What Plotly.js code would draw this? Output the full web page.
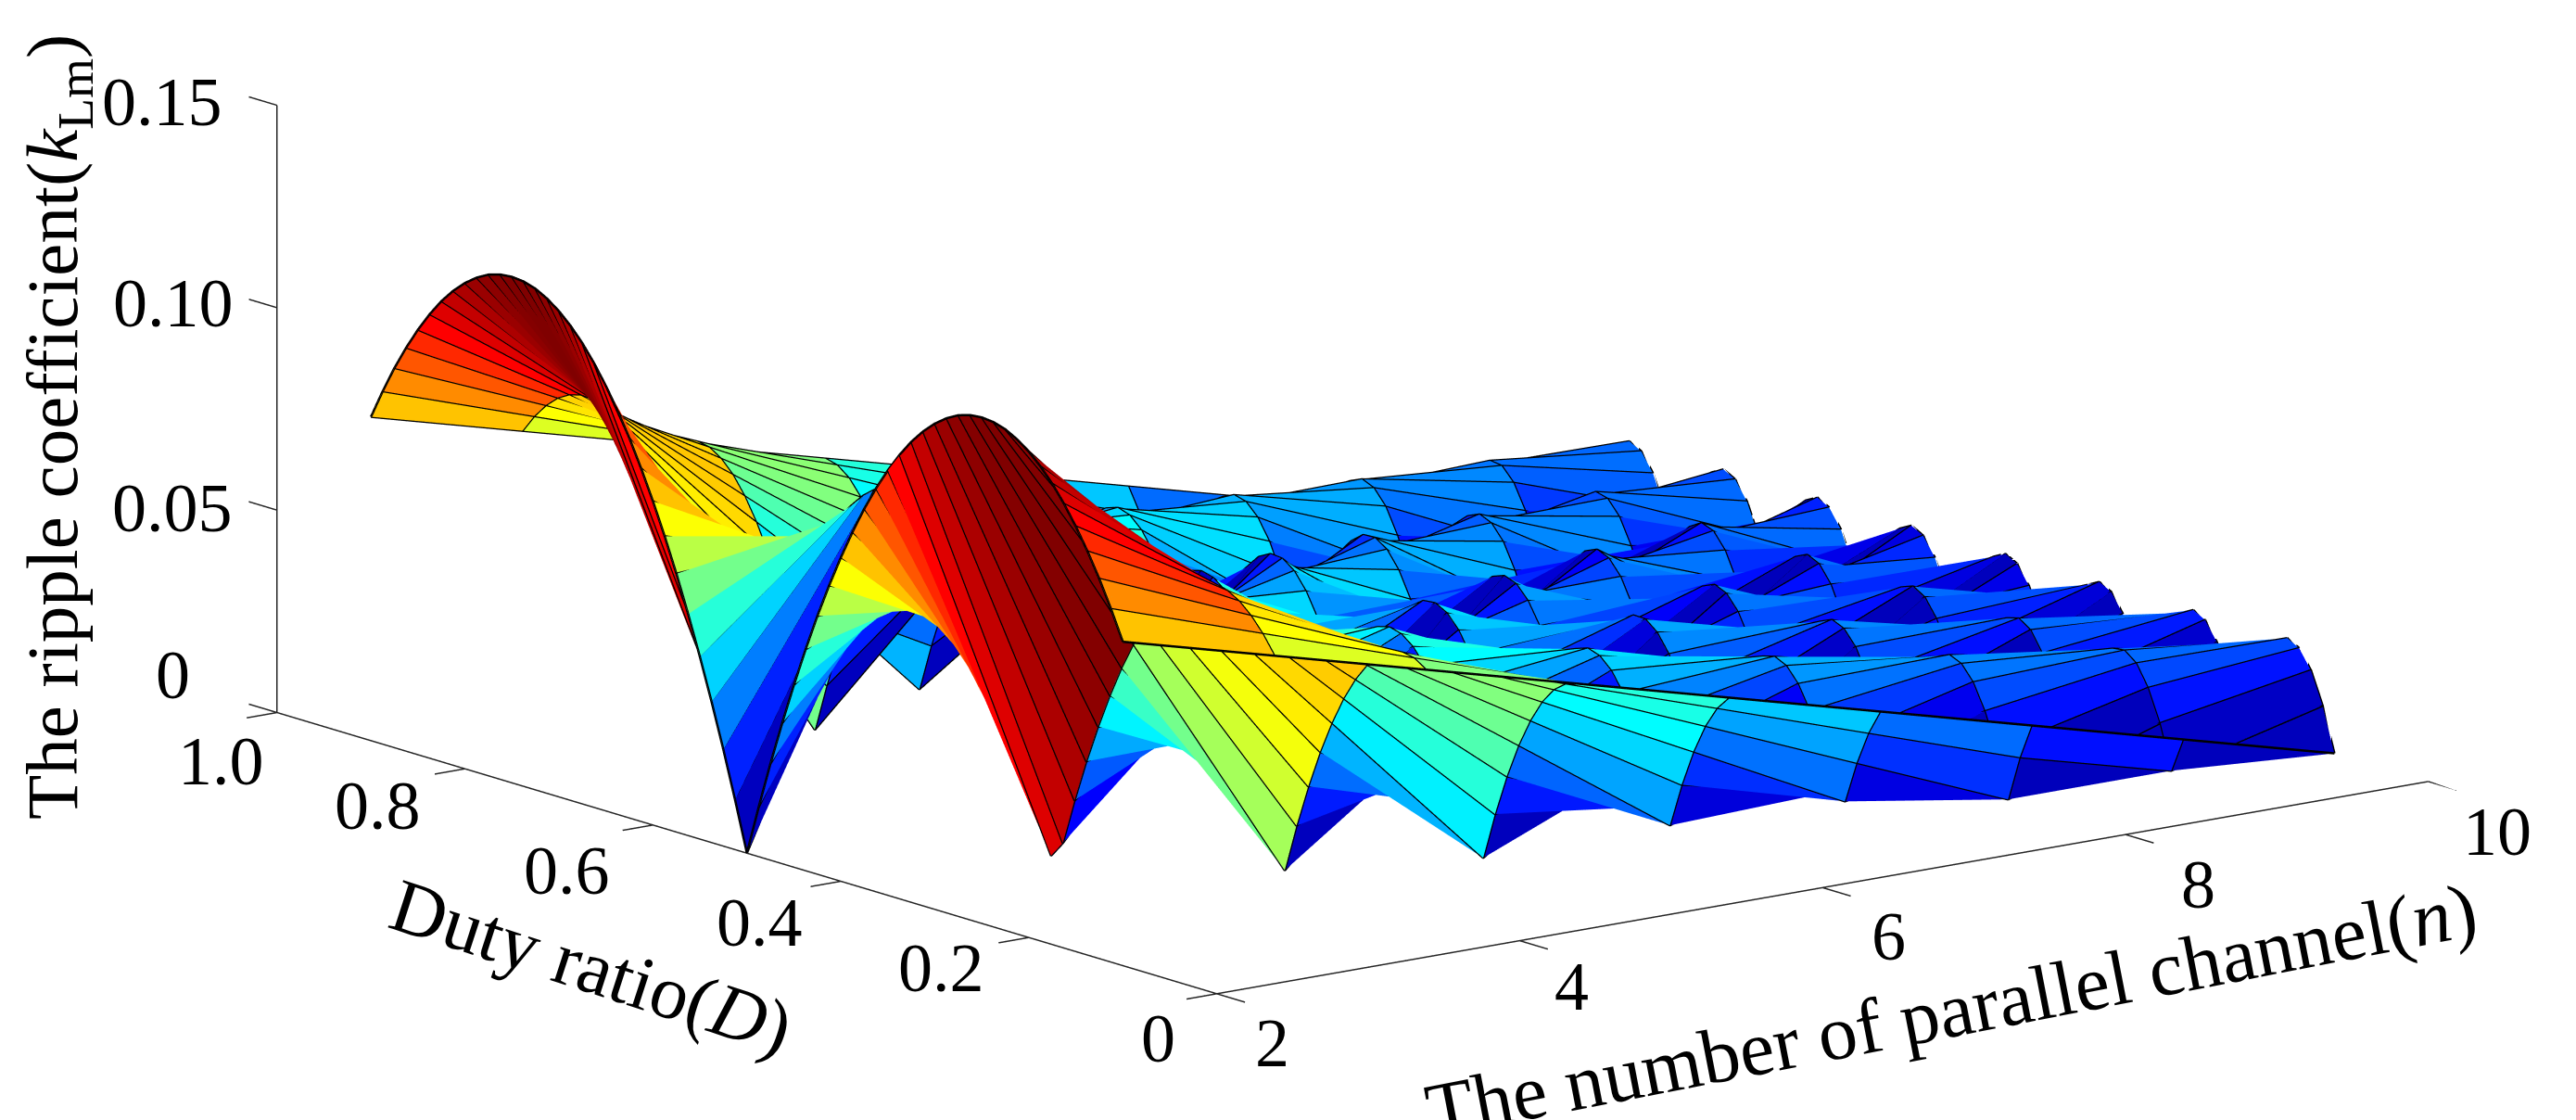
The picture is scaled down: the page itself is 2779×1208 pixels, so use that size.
<!DOCTYPE html>
<html><head><meta charset="utf-8">
<script src="https://cdn.plot.ly/plotly-3.0.1.min.js"></script>
<style>html,body{margin:0;padding:0;background:#fff;overflow:hidden}#c{width:2779px;height:1208px}</style>
</head><body><div id="c"></div>
<script>
const channels = [2,3,4,5,6,7,8,9,10];
const duty = [0.1,0.1125,0.125,0.1375,0.15,0.1625,0.175,0.1875,0.2,0.2125,0.225,0.2375,0.25,0.2625,0.275,0.2875,0.3,0.3125,0.325,0.3375,0.35,0.3625,0.375,0.3875,0.4,0.4125,0.425,0.4375,0.45,0.4625,0.475,0.4875,0.5,0.5125,0.525,0.5375,0.55,0.5625,0.575,0.5875,0.6,0.6125,0.625,0.6375,0.65,0.6625,0.675,0.6875,0.7,0.7125,0.725,0.7375,0.75,0.7625,0.775,0.7875,0.8,0.8125,0.825,0.8375,0.85,0.8625,0.875,0.8875,0.9];
const k2 = [.08,.0872,.0938,.0997,.105,.1097,.1138,.1172,.12,.1222,.1238,.1247,.125,.1247,.1238,.1222,.12,.1172,.1138,.1097,.105,.0997,.0938,.0872,.08,.0722,.0638,.0547,.045,.0347,.0238,.0122,0,.0122,.0238,.0347,.045,.0547,.0638,.0722,.08,.0872,.0938,.0997,.105,.1097,.1138,.1172,.12,.1222,.1238,.1247,.125,.1247,.1238,.1222,.12,.1172,.1138,.1097,.105,.0997,.0938,.0872,.08];
const k3 = [.07,.0745,.0781,.0808,.0825,.0833,.0831,.082,.08,.077,.0731,.0683,.0625,.0558,.0481,.0395,.03,.0195,.0081,.0041,.0158,.0266,.0365,.0454,.0533,.0604,.0665,.0716,.0758,.0791,.0815,.0829,.0833,.0829,.0815,.0791,.0758,.0716,.0665,.0604,.0533,.0454,.0365,.0266,.0158,.0041,.0081,.0195,.03,.0395,.0481,.0558,.0625,.0683,.0731,.077,.08,.082,.0831,.0833,.0825,.0808,.0781,.0745,.07];
const k4 = [.06,.0619,.0625,.0619,.06,.0569,.0525,.0469,.04,.0319,.0225,.0119,0,.0119,.0225,.0319,.04,.0469,.0525,.0569,.06,.0619,.0625,.0619,.06,.0569,.0525,.0469,.04,.0319,.0225,.0119,0,.0119,.0225,.0319,.04,.0469,.0525,.0569,.06,.0619,.0625,.0619,.06,.0569,.0525,.0469,.04,.0319,.0225,.0119,0,.0119,.0225,.0319,.04,.0469,.0525,.0569,.06,.0619,.0625,.0619,.06];
const k5 = [.05,.0492,.0469,.043,.0375,.0305,.0219,.0117,0,.0117,.0219,.0305,.0375,.043,.0469,.0492,.05,.0492,.0469,.043,.0375,.0305,.0219,.0117,0,.0117,.0219,.0305,.0375,.043,.0469,.0492,.05,.0492,.0469,.043,.0375,.0305,.0219,.0117,0,.0117,.0219,.0305,.0375,.043,.0469,.0492,.05,.0492,.0469,.043,.0375,.0305,.0219,.0117,0,.0117,.0219,.0305,.0375,.043,.0469,.0492,.05];
const k6 = [.04,.0366,.0313,.0241,.015,.0041,.0079,.0182,.0267,.0332,.0379,.0407,.0417,.0407,.0379,.0332,.0267,.0182,.0079,.0041,.015,.0241,.0313,.0366,.04,.0416,.0413,.0391,.035,.0291,.0213,.0116,0,.0116,.0213,.0291,.035,.0391,.0413,.0416,.04,.0366,.0313,.0241,.015,.0041,.0079,.0182,.0267,.0332,.0379,.0407,.0417,.0407,.0379,.0332,.0267,.0182,.0079,.0041,.015,.0241,.0313,.0366,.04];
const k7 = [.03,.0239,.0156,.0052,.0068,.0169,.0249,.0307,.0343,.0357,.0349,.0319,.0268,.0194,.0099,.0018,.0129,.0218,.0285,.033,.0354,.0355,.0335,.0293,.0229,.0143,.0035,.0084,.0182,.0259,.0313,.0346,.0357,.0346,.0313,.0259,.0182,.0084,.0035,.0143,.0229,.0293,.0335,.0355,.0354,.033,.0285,.0218,.0129,.0018,.0099,.0194,.0268,.0319,.0349,.0357,.0343,.0307,.0249,.0169,.0068,.0052,.0156,.0239,.03];
const k8 = [.02,.0113,0,.0113,.02,.0263,.03,.0313,.03,.0263,.02,.0113,0,.0113,.02,.0263,.03,.0313,.03,.0263,.02,.0113,0,.0113,.02,.0263,.03,.0313,.03,.0263,.02,.0113,0,.0113,.02,.0263,.03,.0313,.03,.0263,.02,.0113,0,.0113,.02,.0263,.03,.0313,.03,.0263,.02,.0113,0,.0113,.02,.0263,.03,.0313,.03,.0263,.02,.0113,0,.0113,.02];
const k9 = [.01,.0014,.0122,.0201,.0253,.0276,.0272,.0239,.0178,.0089,.0027,.0132,.0208,.0257,.0277,.0269,.0233,.0169,.0077,.004,.0142,.0215,.026,.0278,.0267,.0228,.016,.0065,.0053,.0151,.0222,.0264,.0278,.0264,.0222,.0151,.0053,.0065,.016,.0228,.0267,.0278,.026,.0215,.0142,.004,.0077,.0169,.0233,.0269,.0277,.0257,.0208,.0132,.0027,.0089,.0178,.0239,.0272,.0276,.0253,.0201,.0122,.0014,.01];
const k10 = [0,.0109,.0188,.0234,.025,.0234,.0188,.0109,0,.0109,.0188,.0234,.025,.0234,.0188,.0109,0,.0109,.0188,.0234,.025,.0234,.0188,.0109,0,.0109,.0188,.0234,.025,.0234,.0188,.0109,0,.0109,.0188,.0234,.025,.0234,.0188,.0109,0,.0109,.0188,.0234,.025,.0234,.0188,.0109,0,.0109,.0188,.0234,.025,.0234,.0188,.0109,0,.0109,.0188,.0234,.025,.0234,.0188,.0109,0];
const rows = [k2,k3,k4,k5,k6,k7,k8,k9,k10];

const nTicks = [2,4,6,8,10];
const dTicks = [0,0.2,0.4,0.6,0.8,1.0];
const kTicks = [0,0.05,0.10,0.15];
const nLabels = ['2','4','6','8','10'];
const dLabels = ['0','0.2','0.4','0.6','0.8','1.0'];
const kLabels = ['0','0.05','0.10','0.15'];
const nShift = [[60,-53],[56,-49],[71,-53],[78,-54],[74,-54]];
const dShift = [[-63,-48],[-94,-33],[-88,-44],[-93,-49],[-94,-40],[-60,-52]];
const kShift = [[-112,41],[-113,2],[-112,5],[-124,4]];

const vx=[],vy=[],vz=[],ti=[],tj=[],tk=[],cell=[];
const N=channels.length,M=duty.length;
for(let a=0;a<N;a++)for(let b=0;b<M;b++){vx.push(channels[a]);vy.push(duty[b]);vz.push(rows[a][b]);}
for(let a=0;a<N-1;a++)for(let b=0;b<M-1;b++){
  const p=a*M+b,q=p+1,r=p+M,s=r+1;
  const c=(rows[a][b]+rows[a][b+1])/2;
  ti.push(p,q);tj.push(r,r);tk.push(q,s);cell.push(c,c);
}
const lx=[],ly=[],lz=[];
for(let b=0;b<M;b++){for(let a=0;a<N;a++){lx.push(channels[a]);ly.push(duty[b]);lz.push(rows[a][b]);}lx.push(null);ly.push(null);lz.push(null);}
for(let a=0;a<N;a++){for(let b=0;b<M;b++){lx.push(channels[a]);ly.push(duty[b]);lz.push(rows[a][b]);}lx.push(null);ly.push(null);lz.push(null);}

// axis lines and tick marks, built from the tick arrays and the axis ranges
const tickN=0.2,tickD=0.03;
const ax3=[[],[],[]];
const seg=(a,b)=>{for(let c=0;c<3;c++){ax3[c].push(a[c],b[c],null);}};
seg([nTicks[0],0,0],[nTicks[4],0,0]);
seg([nTicks[0],dTicks[0],0],[nTicks[0],dTicks[5],0]);
seg([nTicks[0],dTicks[5],kTicks[0]],[nTicks[0],dTicks[5],kTicks[3]]);
nTicks.forEach(v=>seg([v,0,0],[v,-tickD,0]));
dTicks.forEach(v=>seg([2,v,0],[2-tickN,v,0]));
kTicks.forEach(v=>seg([2,1,v],[2,1+tickD,v]));

const jet=[[0,'#00008f'],[0.11,'#0000ff'],[0.36,'#00ffff'],[0.61,'#ffff00'],[0.86,'#ff0000'],[1,'#800000']];
const tf={family:'Liberation Serif',size:74,color:'#000'};
const lab={showarrow:false,xanchor:'center',yanchor:'middle',font:tf};
const ann=[];
nTicks.forEach((v,i)=>ann.push(Object.assign({},lab,{x:v,y:0,z:0,text:nLabels[i],xshift:nShift[i][0],yshift:nShift[i][1]})));
dTicks.forEach((v,i)=>ann.push(Object.assign({},lab,{x:2,y:v,z:0,text:dLabels[i],xshift:dShift[i][0],yshift:dShift[i][1]})));
kTicks.forEach((v,i)=>ann.push(Object.assign({},lab,{x:2,y:1,z:v,text:kLabels[i],xshift:kShift[i][0],yshift:kShift[i][1]})));

const ax={showbackground:false,showgrid:false,zeroline:false,showline:false,ticks:'',showticklabels:false,showspikes:false,title:{text:''}};
const W=2779,H=1208,tfv={family:'Liberation Serif',size:79,color:'#000'},tfh={family:'Liberation Serif',size:84,color:'#000'};
const ctr={xref:'paper',yref:'paper',xanchor:'center',yanchor:'middle',showarrow:false};
Plotly.newPlot('c',[
 {type:'mesh3d',x:vx,y:vy,z:vz,i:ti,j:tj,k:tk,intensity:cell,intensitymode:'cell',colorscale:jet,cmin:0,cmax:0.125,showscale:false,flatshading:true,
  lighting:{ambient:1,diffuse:0,specular:0,roughness:1,fresnel:0},hoverinfo:'skip'},
 {type:'scatter3d',mode:'lines',x:lx,y:ly,z:lz,line:{color:'#000',width:5},hoverinfo:'skip',connectgaps:false},
 {type:'scatter3d',mode:'lines',x:ax3[0],y:ax3[1],z:ax3[2],line:{color:'#262626',width:3},hoverinfo:'skip',connectgaps:false}
],{
 width:W,height:H,margin:{l:0,r:0,t:0,b:0},paper_bgcolor:'#fff',showlegend:false,
 scene:{domain:{x:[0,1],y:[0,1]},aspectmode:'manual',aspectratio:{x:2.793,y:2.928,z:1.114},
  camera:{projection:{type:'orthographic'},up:{x:0,y:0,z:1},center:{x:-0.0986,y:0.0168,z:-0.1981},eye:{x:-20.45,y:-26.58,z:7.677}},
  xaxis:Object.assign({},ax,{range:[1.8,10]}),
  yaxis:Object.assign({},ax,{range:[-0.03,1.03]}),
  zaxis:Object.assign({},ax,{range:[0,0.15]}),
  annotations:ann},
 annotations:[
  Object.assign({},ctr,{x:62/W,y:1-461/H,font:tfv,text:'The ripple coefficient(<i>k</i><sub>Lm</sub>)',textangle:-90}),
  Object.assign({},ctr,{x:638/W,y:1-1042/H,font:{family:'Liberation Serif',size:82,color:'#000'},text:'Duty ratio(<i>D</i>)',textangle:18}),
  Object.assign({},ctr,{x:2105/W,y:1-1090/H,font:tfh,text:'The number of parallel channel(<i>n</i>)',textangle:-11})
 ]
},{displayModeBar:false});
</script></body></html>
